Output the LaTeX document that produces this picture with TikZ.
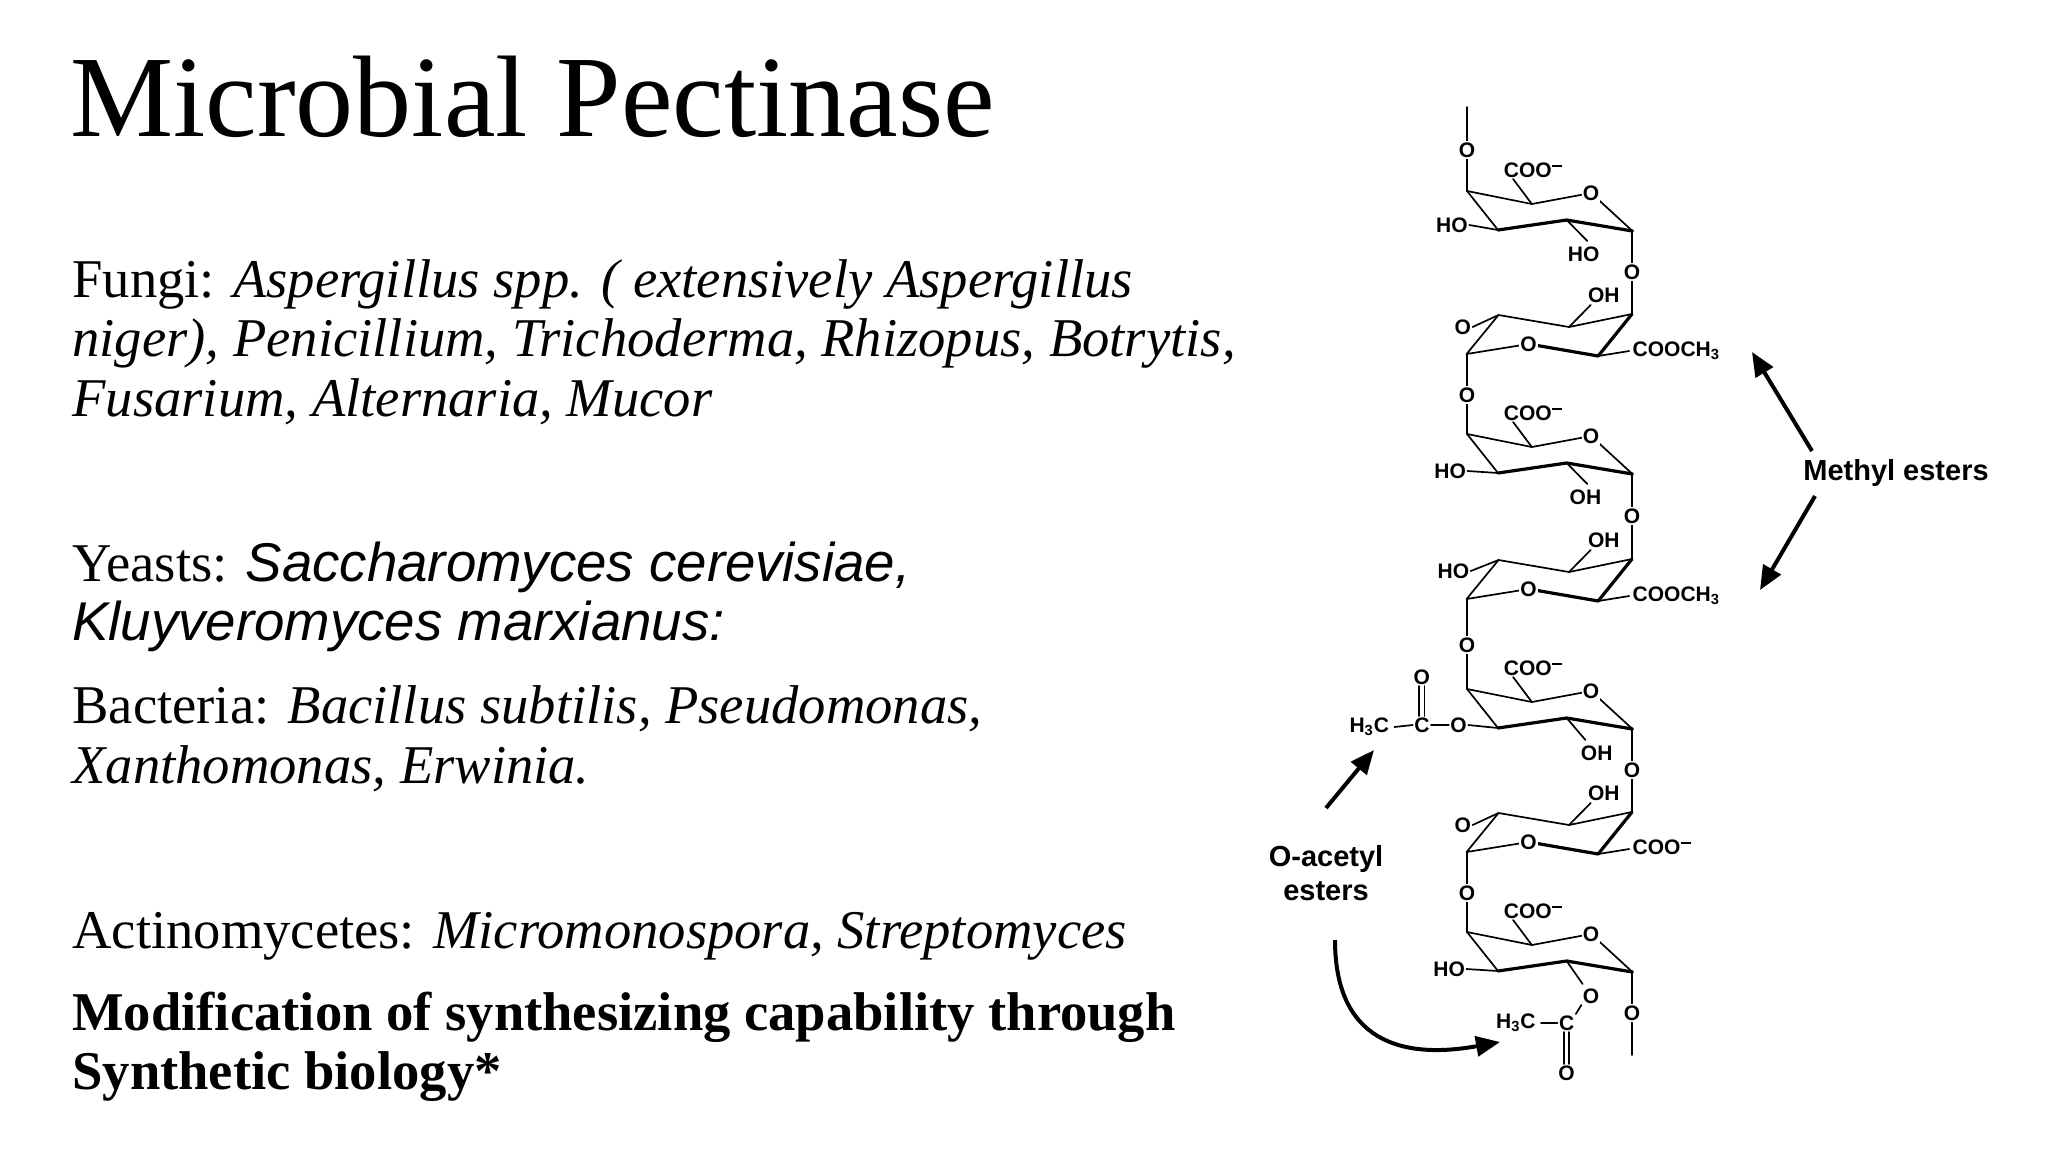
\documentclass[tikz,border=0pt]{standalone}
\usepackage{fontspec}
\setmainfont{Liberation Serif}
\setsansfont{Liberation Sans}
\usetikzlibrary{arrows.meta}
\newcommand\mneg{\raisebox{5pt}{\rule{5pt}{1.2pt}}}
\tikzset{
 bond/.style={line width=0.85pt,line join=round,line cap=round},
 fbond/.style={line width=1.6pt,line join=round,line cap=round},
 lab/.style={font=\sffamily\bfseries\fontsize{10.5}{11}\selectfont,inner sep=0.6pt},
 olab/.style={lab,fill=white},
 txt/.style={anchor=base west,inner sep=0pt,font=\fontsize{27.3}{32}\selectfont},
 note/.style={font=\sffamily\bfseries\fontsize{14.5}{17}\selectfont,align=center,inner sep=0pt},
 bigarrow/.style={line width=2pt,-{Triangle[length=12pt,width=10pt]}}
}
\newcommand\ringA[2]{%
\begin{scope}[shift={(1467,#1)},xscale=0.94]
 \draw[bond] (0,0) -- (69,13) -- (132,2) -- (176,40);
 \draw[bond] (0,0) -- (33,39);
 \draw[fbond] (33,39) -- (106,29) -- (176,40);
 \node[olab] at (132,2) {O};
 \draw[bond] (69,13) -- (49,-12);
 \node[lab] at (70,-21) {COO\mneg};
 #2
\end{scope}}
\newcommand\ringB[2]{%
\begin{scope}[shift={(1632,#1)},xscale=0.94]
 \draw[bond] (0,0) -- (-67,13) -- (-142,1) -- (-176,40) -- (-110,30);
 \draw[fbond] (-110,30) -- (-36,42) -- (0,0);
 \node[olab] at (-110,30) {O};
 \draw[bond] (-67,13) -- (-44,-9);
 \node[lab] at (-30,-19) {OH};
 \draw[bond] (-36,42) -- (-3,37);
 #2
\end{scope}}
\begin{document}
\begin{tikzpicture}[x=0.5pt,y=-0.5pt]
\useasboundingbox (0,0) rectangle (2048,1152);
% ---- text ----
\node[anchor=base west,inner sep=0pt,font=\fontsize{58}{62}\selectfont] (title) at (70,136) {Microbial Pectinase};
\node[txt] (f1) at (72,297) {Fungi: \textit{Aspergillus spp. ( extensively Aspergillus}};
\node[txt] (f2) at (72,356) {\textit{niger), Penicillium, Trichoderma, Rhizopus, Botrytis,}};
\node[txt] (f3) at (72,416) {\textit{Fusarium, Alternaria, Mucor}};
\node[txt] (y1) at (72,581) {Yeasts: \textsf{\textit{Saccharomyces cerevisiae,}}};
\node[txt] (y2) at (72,640) {\textsf{\textit{Kluyveromyces marxianus:}}};
\node[txt] (b1) at (72,723) {Bacteria: \textit{Bacillus subtilis, Pseudomonas,}};
\node[txt] (b2) at (72,783) {\textit{Xanthomonas, Erwinia.}};
\node[txt] (a1) at (72,948) {Actinomycetes: \textit{Micromonospora, Streptomyces}};
\node[txt] (m1) at (72,1030) {\textbf{Modification of synthesizing capability through}};
\node[txt] (m2) at (72,1089) {\textbf{Synthetic biology*}};
% ---- glycosidic chain ----
\draw[bond] (1467,107) -- (1467,191);
\draw[bond] (1632,231) -- (1632,314);
\draw[bond] (1467,354) -- (1467,434);
\draw[bond] (1632,474) -- (1632,559);
\draw[bond] (1467,599) -- (1467,689);
\draw[bond] (1632,729) -- (1632,812);
\draw[bond] (1467,852) -- (1467,932);
\draw[bond] (1632,972) -- (1632,1055);
\foreach \p in {(1467,150),(1632,272),(1467,395),(1632,516),(1467,645),(1632,770),(1467,893),(1632,1013)}
  \node[olab] at \p {O};
% ---- rings ----
\ringA{191}{\node[lab] (ho1) at (-16,34) {HO}; \draw[bond] (33,39) -- (ho1.east);
  \draw[bond] (106,29) -- (128,50); \node[lab] at (124,63) {HO};}
\ringB{314}{\node[lab] (o2) at (-180,13) {O}; \draw[bond] (-142,1) -- (o2.east);
  \node[lab,anchor=west] at (-1,37) {COOCH\textsubscript{3}};}
\ringA{434}{\node[lab] (ho3) at (-18,37) {HO}; \draw[bond] (33,39) -- (ho3.east);
  \draw[bond] (106,29) -- (128,50); \node[lab] at (126,63) {OH};}
\ringB{559}{\node[lab] (ho4) at (-190,12) {HO}; \draw[bond] (-142,1) -- (ho4.east);
  \node[lab,anchor=west] at (-1,37) {COOCH\textsubscript{3}};}
\ringA{689}{\draw[bond] (106,29) -- (126,51); \node[lab] at (138,64) {OH};
  \node[lab] (ao) at (-9,36) {O}; \draw[bond] (33,39) -- (ao.east);
  \node[lab] (ac) at (-48,36) {C}; \draw[bond] (ao.west) -- (ac.east);
  \node[lab] (ao2) at (-48,-12) {O};
  \draw[bond] ([xshift=-1.4pt]ac.north) -- ([xshift=-1.4pt]ao2.south);
  \draw[bond] ([xshift=1.4pt]ac.north) -- ([xshift=1.4pt]ao2.south);
  \node[lab] (h1) at (-104,38) {H\textsubscript{3}C}; \draw[bond] ([xshift=2pt]h1.east) -- (ac.west);}
\ringB{812}{\node[lab] (o6) at (-180,13) {O}; \draw[bond] (-142,1) -- (o6.east);
  \node[lab,anchor=west] at (-1,35) {COO\mneg};}
\ringA{932}{\node[lab] (ho7) at (-19,37) {HO}; \draw[bond] (33,39) -- (ho7.east);
  \draw[bond] (106,29) -- (123,52); \node[lab] (bo) at (132,64) {O};
  \node[lab] (bc) at (106,91) {C}; \draw[bond] (bo.south west) -- (bc.north east);
  \node[lab] (bo2) at (106,141) {O};
  \draw[bond] ([xshift=-1.4pt]bc.south) -- ([xshift=-1.4pt]bo2.north);
  \draw[bond] ([xshift=1.4pt]bc.south) -- ([xshift=1.4pt]bo2.north);
  \node[lab] (h2) at (52,91) {H\textsubscript{3}C}; \draw[bond] ([xshift=2pt]h2.east) -- (bc.west);}
% ---- annotations ----
\node[note] (me) at (1896,473) {Methyl esters};
\coordinate (me1) at (1812,451); \coordinate (me2) at (1815,496);
\coordinate (t1) at (1752,352); \coordinate (t2) at (1760,590);
\draw[bigarrow] (me1) -- (t1);
\draw[bigarrow] (me2) -- (t2);
\node[note] (oa) at (1326,873) {O-acetyl\\esters};
\coordinate (oa1) at (1326,808); \coordinate (t3) at (1374,750);
\coordinate (oa2) at (1335,940); \coordinate (t4) at (1500,1042);
\draw[bigarrow] (oa1) -- (t3);
\draw[bigarrow] (oa2) .. controls (1335,1040) and (1400,1060) .. (t4);
\end{tikzpicture}
\end{document}
